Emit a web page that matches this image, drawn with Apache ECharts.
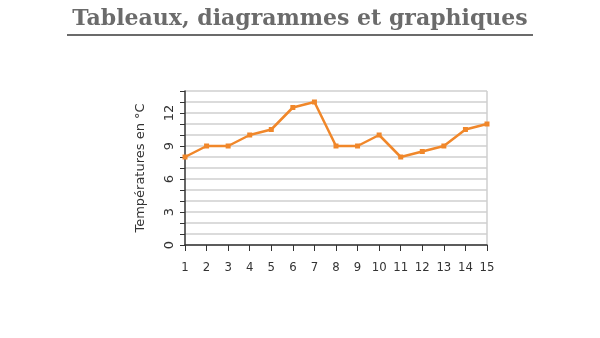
<!DOCTYPE html>
<html><head><meta charset="utf-8">
<script src="https://cdn.jsdelivr.net/npm/echarts@6/dist/echarts.min.js"></script>
<style>html,body{margin:0;padding:0;background:#fff}#c{width:600px;height:338px}</style>
</head><body><div id="c"></div>
<script>
const titleText = 'Tableaux, diagrammes et graphiques';
const yAxisName = 'Températures en °C';
const days = ['1','2','3','4','5','6','7','8','9','10','11','12','13','14','15'];
const temperatures = [8, 9, 9, 10, 10.5, 12.5, 13, 9, 9, 10, 8, 8.5, 9, 10.5, 11];
const yLabelValues = [0, 3, 6, 9, 12];

const chart = echarts.init(document.getElementById('c'));
chart.setOption({
  backgroundColor: '#fff',
  animation: false,
  graphic: [
    { type: 'text', left: 'center', top: 8,
      style: { text: titleText, fontSize: 22, fontWeight: 'bold', fontFamily: 'DejaVu Serif', fill: '#6b6b6b' } },
    { type: 'rect', shape: { x: 67, y: 34, width: 466, height: 2 }, style: { fill: '#6b6b6b' } },
    { type: 'line', shape: { x1: 487, y1: 91, x2: 487, y2: 245 }, style: { stroke: '#cfcfcf', lineWidth: 1.5 } }
  ],
  grid: { left: 185, right: 113, top: 91, bottom: 93 },
  xAxis: {
    type: 'category', data: days, boundaryGap: false,
    axisLine: { lineStyle: { color: '#333', width: 1.5 } },
    axisTick: { show: true, length: 6, inside: false, lineStyle: { color: '#333' } },
    axisLabel: { color: '#333', fontSize: 13, fontFamily: 'DejaVu Sans Condensed', margin: 16 },
    splitLine: { show: false }
  },
  yAxis: {
    type: 'value', min: 0, max: 14, interval: 1,
    name: yAxisName, nameLocation: 'middle', nameGap: 38,
    nameTextStyle: { color: '#333', fontSize: 13, fontFamily: 'DejaVu Sans' },
    axisLine: { show: true, lineStyle: { color: '#333', width: 1.5 } },
    axisTick: { show: true, length: 5, lineStyle: { color: '#333' } },
    axisLabel: { color: '#333', fontSize: 13, fontFamily: 'DejaVu Sans', rotate: 90, margin: 9,
      formatter: v => yLabelValues.includes(v) ? String(v) : '' },
    splitLine: { show: true, lineStyle: { color: '#cfcfcf', width: 1.5 } }
  },
  series: [{
    type: 'line', data: temperatures,
    symbol: 'rect', symbolSize: 5,
    lineStyle: { color: '#f0872a', width: 2.5 },
    itemStyle: { color: '#f0872a' }
  }]
});
</script></body></html>
